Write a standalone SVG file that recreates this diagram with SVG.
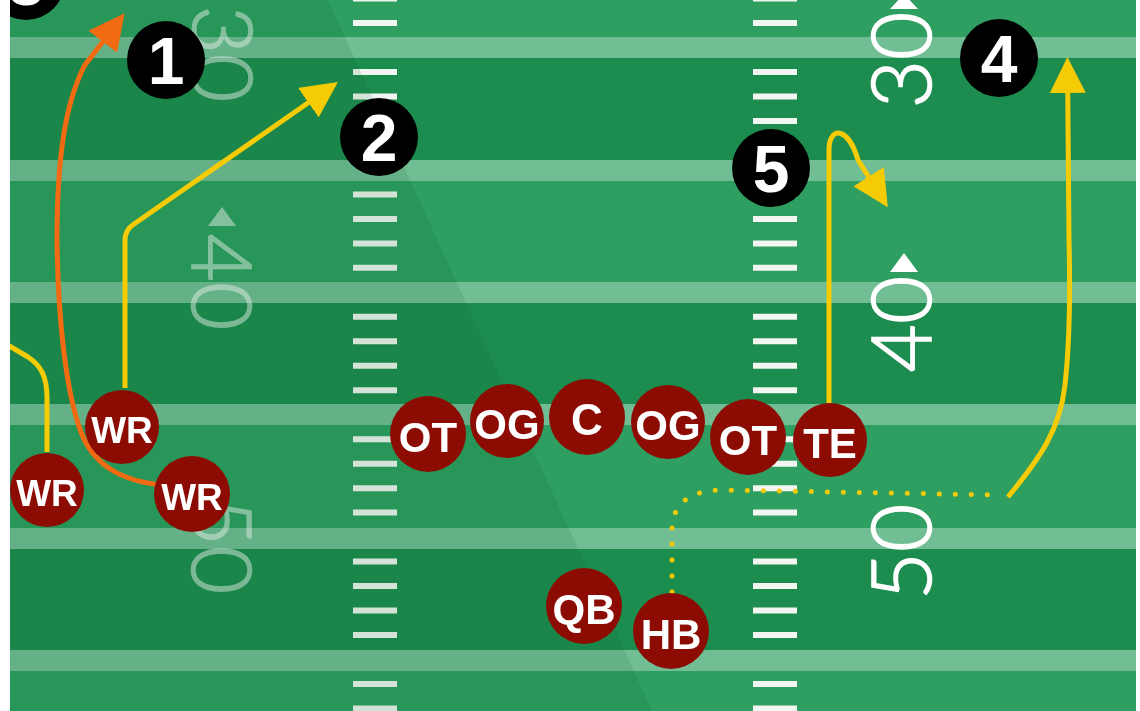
<svg xmlns="http://www.w3.org/2000/svg" width="1140" height="711" viewBox="0 0 1140 711">
<defs>
<style>
.band{fill:#1d8c4f}
.stripe{fill:#fff;fill-opacity:.33}
.hash{fill:#f1f6f1}
.yd{font-family:Lato,"Open Sans","Liberation Sans",sans-serif;font-weight:300;font-size:83px;fill:#fff;stroke:#fff;stroke-width:1.6;text-anchor:middle}
.player circle{fill:#8c0c04}
.player text{font-family:"Liberation Sans",Arial,sans-serif;font-weight:bold;fill:#fff;text-anchor:middle}
.mk circle{fill:#000}
.mk text{font-family:"Liberation Sans",Arial,sans-serif;font-weight:bold;font-size:66px;fill:#fff;text-anchor:middle}
.route{fill:none;stroke-width:5;stroke-linejoin:round}
.yel{stroke:#f5cb06}
.org{stroke:#f26b12}
</style>
<marker id="ay" markerUnits="userSpaceOnUse" markerWidth="36" markerHeight="36" viewBox="0 0 36 36" refX="30" refY="18" orient="auto"><path d="M0,0L36,18L0,36z" fill="#f5cb06"/></marker>
<marker id="ao" markerUnits="userSpaceOnUse" markerWidth="36" markerHeight="36" viewBox="0 0 36 36" refX="30" refY="18" orient="auto"><path d="M0,0L36,18L0,36z" fill="#f26b12"/></marker>
</defs>

<g id="field">
<rect x="0" y="0" width="1140" height="711" fill="#2e9f60"/>
<rect class="band" x="0" y="58" width="1140" height="102"/>
<rect class="band" x="0" y="303" width="1140" height="101"/>
<rect class="band" x="0" y="549" width="1140" height="101"/>
<rect class="stripe" x="0" y="37" width="1140" height="21"/>
<rect class="stripe" x="0" y="160" width="1140" height="21"/>
<rect class="stripe" x="0" y="282" width="1140" height="21"/>
<rect class="stripe" x="0" y="404" width="1140" height="21"/>
<rect class="stripe" x="0" y="528" width="1140" height="21"/>
<rect class="stripe" x="0" y="650" width="1140" height="21"/>
<path class="hash" d="M353,-4.5h44v6h-44zM753,-4.5h44v6h-44zM353,20h44v6h-44zM753,20h44v6h-44zM353,69h44v6h-44zM753,69h44v6h-44zM353,93.5h44v6h-44zM753,93.5h44v6h-44zM353,118h44v6h-44zM753,118h44v6h-44zM353,142.5h44v6h-44zM753,142.5h44v6h-44zM353,191.4h44v6h-44zM753,191.4h44v6h-44zM353,215.9h44v6h-44zM753,215.9h44v6h-44zM353,240.4h44v6h-44zM753,240.4h44v6h-44zM353,264.8h44v6h-44zM753,264.8h44v6h-44zM353,313.8h44v6h-44zM753,313.8h44v6h-44zM353,338.3h44v6h-44zM753,338.3h44v6h-44zM353,362.8h44v6h-44zM753,362.8h44v6h-44zM353,387.2h44v6h-44zM753,387.2h44v6h-44zM353,436.2h44v6h-44zM753,436.2h44v6h-44zM353,460.7h44v6h-44zM753,460.7h44v6h-44zM353,485.2h44v6h-44zM753,485.2h44v6h-44zM353,509.6h44v6h-44zM753,509.6h44v6h-44zM353,558.6h44v6h-44zM753,558.6h44v6h-44zM353,583.1h44v6h-44zM753,583.1h44v6h-44zM353,607.6h44v6h-44zM753,607.6h44v6h-44zM353,632h44v6h-44zM753,632h44v6h-44zM353,681h44v6h-44zM753,681h44v6h-44zM353,705.5h44v6h-44zM753,705.5h44v6h-44z"/>
<g opacity=".5">
<text class="yd" transform="translate(223,54) rotate(90)" y="30">30</text>
<text class="yd" transform="translate(222,282) rotate(90)" y="30">40</text>
<text class="yd" transform="translate(222,546) rotate(90)" y="30">50</text>
<polygon points="222,207 208,226 236,226" fill="#fff"/>
</g>
<text class="yd" transform="translate(901,60) rotate(-90)" y="30">30</text>
<text class="yd" transform="translate(901,324) rotate(-90)" y="30">40</text>
<text class="yd" transform="translate(901,552) rotate(-90)" y="30">50</text>
<polygon points="904,-6 890,9 918,9" fill="#fff"/>
<polygon points="904,253 890,272 918,272" fill="#fff"/>
<polygon points="0,0 328,0 652,711 0,711" fill="#0a5a2a" fill-opacity=".12"/>
</g>

<g id="connectors">
<path class="route org" d="M162,485 C122,481 94,466 81,432 C66,392 58,320 57,240 C57,150 67,100 84.5,65.6 L121,18" marker-end="url(#ao)"/>
<path class="route yel" d="M125,388 L125,240 Q125,230 134,224 L333,85.5" marker-end="url(#ay)"/>
<path class="route yel" d="M47,452 L47,398 C47,375 40,365 28,357 L6,344"/>
<path class="route yel" d="M829,403 L829,150 C829,126 848,126 858,160 L884.6,202.1" marker-end="url(#ay)"/>
<path class="route yel" d="M672,592 L672,530 C672,504 690,490 722,490 L1000,495" stroke-width="7.5" stroke-dasharray="0 16" stroke-linecap="round"/>
<path class="route yel" d="M1008,497 C1040,458 1060,430 1065,385 C1070,340 1070,280 1069,240 L1067.5,63" marker-end="url(#ay)"/>
</g>

<g id="wr1" class="player"><circle cx="47" cy="490" r="37"/><text x="47" y="506" font-size="37">WR</text></g>
<g id="wr2" class="player"><circle cx="122" cy="427" r="37"/><text x="122" y="443" font-size="37">WR</text></g>
<g id="wr3" class="player"><circle cx="192" cy="494" r="38"/><text x="192" y="510" font-size="37">WR</text></g>
<g id="ot1" class="player"><circle cx="428" cy="434" r="38"/><text x="428" y="452" font-size="42">OT</text></g>
<g id="og1" class="player"><circle cx="507" cy="421" r="37"/><text x="507" y="439" font-size="42">OG</text></g>
<g id="c" class="player"><circle cx="587" cy="417" r="38"/><text x="587" y="435" font-size="44">C</text></g>
<g id="og2" class="player"><circle cx="668" cy="422" r="37"/><text x="668" y="440" font-size="42">OG</text></g>
<g id="ot2" class="player"><circle cx="748" cy="437" r="38"/><text x="748" y="455" font-size="42">OT</text></g>
<g id="te" class="player"><circle cx="830" cy="440" r="37"/><text x="830" y="458" font-size="42">TE</text></g>
<g id="qb" class="player"><circle cx="584" cy="606" r="38"/><text x="584" y="624" font-size="42">QB</text></g>
<g id="hb" class="player"><circle cx="671" cy="631" r="38"/><text x="671" y="649" font-size="42">HB</text></g>

<g id="m3" class="mk"><circle cx="26" cy="-19" r="39"/><text x="26" y="5">3</text></g>
<g id="m1" class="mk"><circle cx="166" cy="60" r="39"/><text x="166" y="84">1</text></g>
<g id="m2" class="mk"><circle cx="379" cy="137" r="39"/><text x="379" y="161">2</text></g>
<g id="m4" class="mk"><circle cx="999" cy="58" r="39"/><text x="999" y="82">4</text></g>
<g id="m5" class="mk"><circle cx="771" cy="168" r="39"/><text x="771" y="192">5</text></g>

<g id="border">
<rect x="0" y="0" width="10" height="711" fill="#fff"/>
<rect x="1136" y="0" width="4" height="711" fill="#fff"/>
</g>
</svg>
